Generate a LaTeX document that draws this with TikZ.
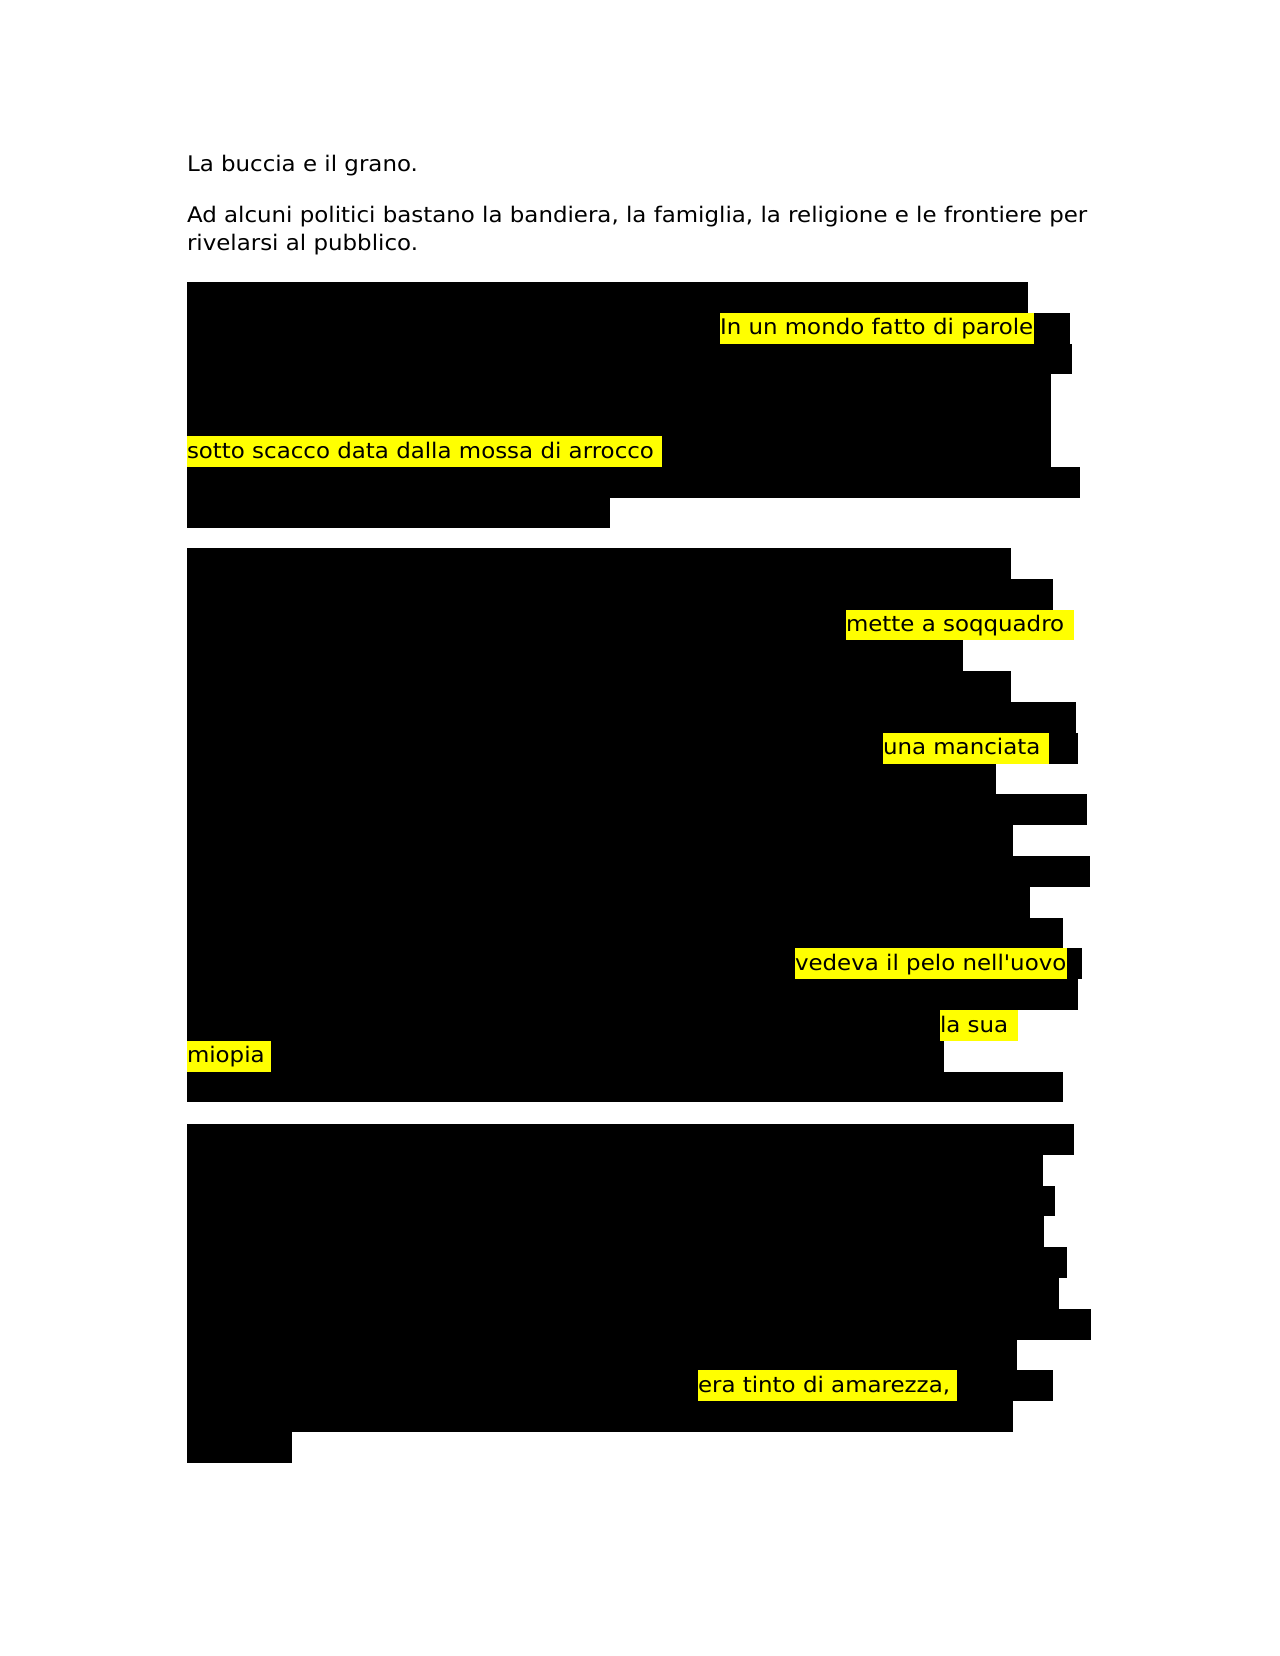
\documentclass[tikz,border=0pt]{standalone}
\usepackage{fontspec}
\setmainfont{DejaVu Sans}[FakeStretch=1.066,Ligatures=TeXOff]
\definecolor{hly}{HTML}{FFFF00}
\newcommand\rowstep{30.8}
% \rowbar{top}{k}{x1}{x2}
\newcommand\rowbar[4]{\fill[black] (#3,{#1+#2*\rowstep}) rectangle (#4,{#1+(#2+1)*\rowstep});}
% \hlbox{name}{top}{k}{x1}{x2}{text}
\newcommand\hlbox[6]{\fill[hly] (#4,{#2+#3*\rowstep}) rectangle (#5,{#2+(#3+1)*\rowstep});
  \node[txt] (#1) at (#4,{#2+#3*\rowstep+22}) {#6};}
\begin{document}
\begin{tikzpicture}[x=0.5pt,y=-0.5pt,
  txt/.style={anchor=base west,inner sep=0pt,outer sep=0pt,font=\fontsize{10.75}{13}\selectfont}]
\useasboundingbox[fill=white] (0,0) rectangle (1280,1656);
% heading
\node[txt] (title) at (187,171) {La buccia e il grano.};
\node[txt] (intro1) at (187,222) {Ad alcuni politici bastano la bandiera, la famiglia, la religione e le frontiere per};
\node[txt] (intro2) at (187,250) {rivelarsi al pubblico.};
% paragraph 1
\def\pa{282}
\rowbar{\pa}{0}{187}{1028}
\rowbar{\pa}{1}{187}{720}
\hlbox{p1a}{\pa}{1}{720}{1034}{In un mondo fatto di parole}
\rowbar{\pa}{1}{1034}{1070}
\rowbar{\pa}{2}{187}{1072}
\rowbar{\pa}{3}{187}{1051}
\rowbar{\pa}{4}{187}{1051}
\hlbox{p1b}{\pa}{5}{187}{662}{sotto scacco data dalla mossa di arrocco}
\rowbar{\pa}{5}{662}{1051}
\rowbar{\pa}{6}{187}{1080}
\rowbar{\pa}{7}{187}{610}
% paragraph 2
\def\pb{548}
\rowbar{\pb}{0}{187}{1011}
\rowbar{\pb}{1}{187}{1053}
\rowbar{\pb}{2}{187}{846}
\hlbox{p2a}{\pb}{2}{846}{1074}{mette a soqquadro}
\rowbar{\pb}{3}{187}{963}
\rowbar{\pb}{4}{187}{1011}
\rowbar{\pb}{5}{187}{1076}
\rowbar{\pb}{6}{187}{883}
\hlbox{p2b}{\pb}{6}{883}{1049}{una manciata}
\rowbar{\pb}{6}{1049}{1078}
\rowbar{\pb}{7}{187}{996}
\rowbar{\pb}{8}{187}{1087}
\rowbar{\pb}{9}{187}{1013}
\rowbar{\pb}{10}{187}{1090}
\rowbar{\pb}{11}{187}{1030}
\rowbar{\pb}{12}{187}{1063}
\rowbar{\pb}{13}{187}{795}
\hlbox{p2c}{\pb}{13}{795}{1067}{vedeva il pelo nell'uovo}
\rowbar{\pb}{13}{1067}{1082}
\rowbar{\pb}{14}{187}{1078}
\rowbar{\pb}{15}{187}{940}
\hlbox{p2d}{\pb}{15}{940}{1018}{la sua}
\hlbox{p2e}{\pb}{16}{187}{271}{miopia}
\rowbar{\pb}{16}{271}{944}
\rowbar{\pb}{17}{187}{1063}
% paragraph 3
\def\pc{1124}
\rowbar{\pc}{0}{187}{1074}
\rowbar{\pc}{1}{187}{1043}
\rowbar{\pc}{2}{187}{1055}
\rowbar{\pc}{3}{187}{1044}
\rowbar{\pc}{4}{187}{1067}
\rowbar{\pc}{5}{187}{1059}
\rowbar{\pc}{6}{187}{1091}
\rowbar{\pc}{7}{187}{1017}
\rowbar{\pc}{8}{187}{698}
\hlbox{p3a}{\pc}{8}{698}{957}{era tinto di amarezza,}
\rowbar{\pc}{8}{957}{1053}
\rowbar{\pc}{9}{187}{1013}
\rowbar{\pc}{10}{187}{292}
\end{tikzpicture}
\end{document}
